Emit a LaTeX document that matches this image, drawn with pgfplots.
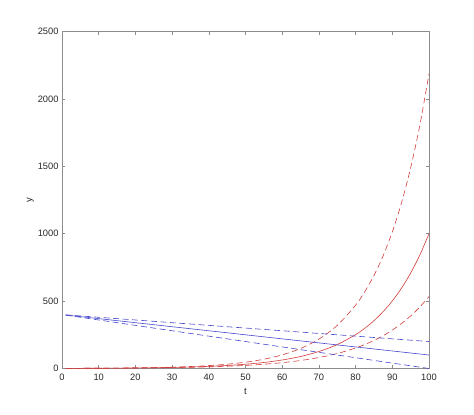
\documentclass[border=0pt]{standalone}
\usepackage{fontspec}
\setmainfont{Liberation Sans}
\usepackage{pgfplots}
\pgfplotsset{compat=1.18}
\definecolor{mred}{RGB}{210,60,60}
\definecolor{mblue}{RGB}{70,70,205}
\definecolor{axgray}{RGB}{140,140,140}
\definecolor{txt}{RGB}{40,40,40}
\begin{document}
\begin{tikzpicture}
\begin{axis}[
  scale only axis, width=367pt, height=337pt,
  xmin=0, xmax=100, ymin=0, ymax=2500,
  xtick={0,10,...,100}, ytick={0,500,...,2500},
  axis line style={axgray},
  every tick/.style={axgray},
  major tick length=3.5pt,
  tick label style={font=\fontsize{9.3}{10}\selectfont, text=txt},
  xticklabel style={yshift=-1.5pt},
  label style={font=\fontsize{9.5}{11}\selectfont, text=txt},
  /pgf/number format/assume math mode=true,
  /pgf/number format/1000 sep={},
  xlabel={t}, ylabel={y},
  xlabel style={yshift=-1pt},
  ylabel style={yshift=-3pt},
  every axis plot/.append style={line width=0.6pt},
]
% red central
\addplot[mred, smooth] coordinates {
 (1,1.07) (5,1.41) (10,2.00) (15,2.82) (20,3.98) (25,5.62) (30,7.94) (35,11.2)
 (40,15.8) (45,22.4) (50,31.6) (55,44.7) (60,63.1) (65,89.1) (70,125.9) (75,177.8)
 (80,251.2) (82.5,298.5) (85,354.8) (87.5,421.7) (90,501.2) (92.5,595.7) (95,707.9) (97.5,841.4) (100,1000)
};
% red upper
\addplot[mred, smooth, dash pattern=on 6pt off 3.5pt] coordinates {
 (1,1.08) (5,1.47) (10,2.16) (15,3.17) (20,4.66) (25,6.84) (30,10.04) (35,14.75)
 (40,21.67) (45,31.83) (50,46.76) (55,68.70) (60,100.9) (65,148.2) (70,217.7) (75,319.8)
 (80,469.7) (82.5,569.1) (85,690.0) (87.5,836.1) (90,1013.5) (92.5,1228.1) (95,1488.7) (97.5,1803.9) (100,2187)
};
% red lower
\addplot[mred, smooth, dash pattern=on 6pt off 3.5pt] coordinates {
 (1,1.065) (5,1.37) (10,1.87) (15,2.57) (20,3.51) (25,4.81) (30,6.58) (35,9.01)
 (40,12.33) (45,16.88) (50,23.10) (55,31.63) (60,43.30) (65,59.28) (70,81.13) (75,111.05)
 (80,152.0) (82.5,177.9) (85,208.1) (87.5,243.5) (90,284.9) (92.5,333.3) (95,389.9) (97.5,456.2) (100,533.8)
};
% blue central
\addplot[mblue] coordinates {(1,397) (100,100)};
% blue upper
\addplot[mblue, dash pattern=on 6pt off 3.5pt] coordinates {(1,398) (100,200)};
% blue lower
\addplot[mblue, dash pattern=on 6pt off 3.5pt] coordinates {(1,396) (100,0)};
\end{axis}
\pgfresetboundingbox
\path ([shift={(-62pt,-46.5pt)}]current axis.south west) rectangle ([shift={(45pt,31.5pt)}]current axis.north east);
\end{tikzpicture}
\end{document}
